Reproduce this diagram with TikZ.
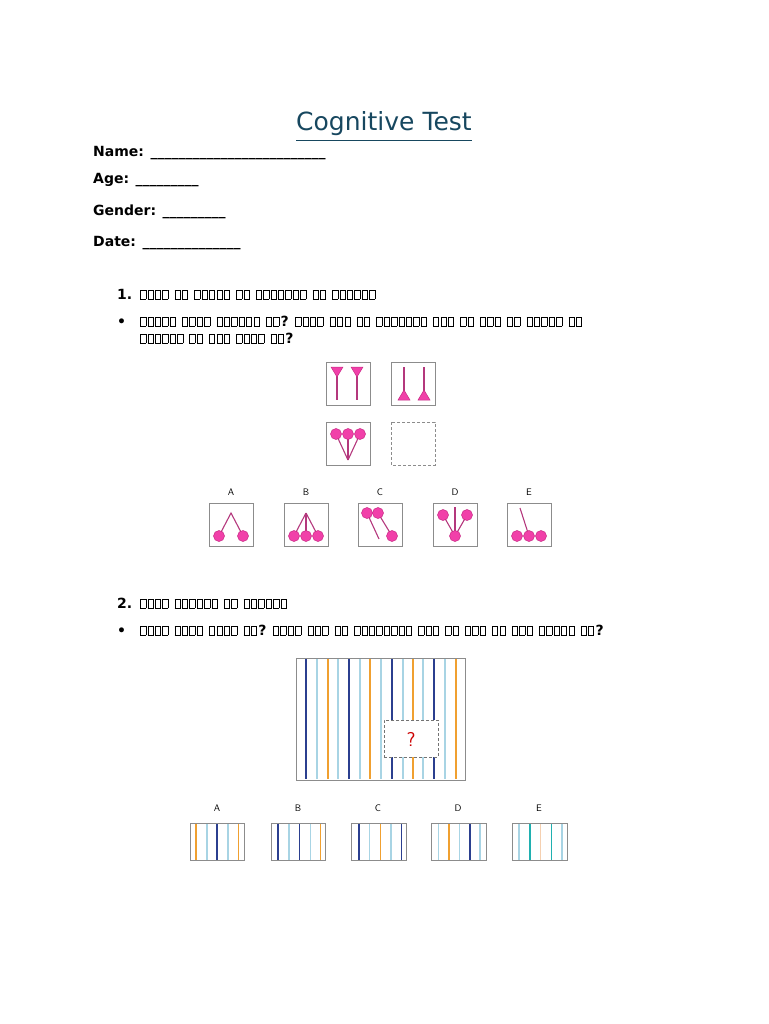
\documentclass[tikz,border=0pt]{standalone}
\usepackage{fontspec}
\usetikzlibrary{calc}
\setmainfont{DejaVu Sans}
\catcode`\▯=\active
\def▯{\makebox[7.4pt][l]{\fboxsep=0pt\fboxrule=0.7pt\framebox[6pt]{\rule{0pt}{8.3pt}}}}
\begin{document}
\begin{tikzpicture}[x=1pt,y=-1pt,
  txt/.style={anchor=base west,inner sep=0pt,font=\fontsize{14}{16}\selectfont\bfseries},
  lbl/.style={font=\fontsize{9.5}{10}\selectfont\sffamily,inner sep=0pt},
  fbox/.style={draw=black!45,line width=0.8pt},
  pk/.style={draw=magenta!70!black,line width=1.1pt},
  pc/.style={draw=magenta!80!black,fill=magenta!75,line width=0.5pt}]
\useasboundingbox (0,0) rectangle (768,1024);
\definecolor{ttl}{HTML}{17475F}
\definecolor{dk}{HTML}{2B3F8F}
\definecolor{lt}{HTML}{A8D4E4}
\definecolor{og}{HTML}{F0A030}
\definecolor{tl}{HTML}{20B0B0}
\definecolor{pe}{HTML}{F5D0B0}
\node[anchor=base,inner sep=0pt,font=\fontsize{25}{28}\selectfont,text=ttl] (title) at (384,131) {Cognitive Test};
\draw[ttl,line width=0.8pt] ($(title.south west)+(0,4)$) -- ($(title.south east)+(0,4)$);
\node[txt] (nm) at (93,157) {Name: \_\_\_\_\_\_\_\_\_\_\_\_\_\_\_\_\_\_\_\_\_\_\_\_\_};
\node[txt] (ag) at (93,184) {Age: \_\_\_\_\_\_\_\_\_};
\node[txt] (gd) at (93,215) {Gender: \_\_\_\_\_\_\_\_\_};
\node[txt] (dt) at (93,246) {Date: \_\_\_\_\_\_\_\_\_\_\_\_\_\_};
\node[txt] (q1n) at (117,299) {1.};
\node[txt] (q1) at (140,299) {▯▯▯▯ ▯▯ ▯▯▯▯▯ ▯▯ ▯▯▯▯▯▯▯ ▯▯ ▯▯▯▯▯▯};
\node[txt] (b1) at (117,326) {•};
\node[txt] (q1a) at (140,326) {▯▯▯▯▯ ▯▯▯▯ ▯▯▯▯▯▯ ▯▯? ▯▯▯▯ ▯▯▯ ▯▯ ▯▯▯▯▯▯▯ ▯▯▯ ▯▯ ▯▯▯ ▯▯ ▯▯▯▯▯ ▯▯};
\node[txt] (q1b) at (140,343) {▯▯▯▯▯▯ ▯▯ ▯▯▯ ▯▯▯▯ ▯▯?};
\node[txt] (q2n) at (117,608) {2.};
\node[txt] (q2) at (140,608) {▯▯▯▯ ▯▯▯▯▯▯ ▯▯ ▯▯▯▯▯▯};
\node[txt] (b2) at (117,635) {•};
\node[txt] (q2a) at (140,635) {▯▯▯▯ ▯▯▯▯ ▯▯▯▯ ▯▯? ▯▯▯▯ ▯▯▯ ▯▯ ▯▯▯▯▯▯▯▯ ▯▯▯ ▯▯ ▯▯▯ ▯▯ ▯▯▯ ▯▯▯▯▯ ▯▯?};
% Q1 figures
\begin{scope}[shift={(326,362)}]
 \draw[fbox] (0,0) rectangle (44,43);
 \foreach \c in {11,31}{\draw[pk] (\c,10) -- (\c,38); \filldraw[pc] (\c-6,5) -- (\c+6,5) -- (\c,15) -- cycle;}
\end{scope}
\begin{scope}[shift={(391,362)}]
 \draw[fbox] (0,0) rectangle (44,43);
 \foreach \c in {13,33}{\draw[pk] (\c,5) -- (\c,32); \filldraw[pc] (\c-6,38) -- (\c+6,38) -- (\c,28) -- cycle;}
\end{scope}
\begin{scope}[shift={(326,422)}]
 \draw[fbox] (0,0) rectangle (44,43);
 \foreach \c in {10,22,34}{\draw[pk] (\c,12) -- (22,38);}
 \foreach \c in {10,22,34}{\filldraw[pc] (\c,12) circle (5.5);}
\end{scope}
\draw[black!45,densely dashed,line width=0.8pt] (391,422) rectangle (435,465);
\foreach \x/\l in {209/A,284/B,358/C,433/D,507/E}{\node[lbl] (l1\l) at (\x+22,492) {\l};}
\begin{scope}[shift={(209,503)}]
 \draw[fbox] (0,0) rectangle (44,43);
 \draw[pk] (10,33) -- (22,10) -- (34,33);
 \foreach \c in {10,34}{\filldraw[pc] (\c,33) circle (5.5);}
\end{scope}
\begin{scope}[shift={(284,503)}]
 \draw[fbox] (0,0) rectangle (44,43);
 \foreach \c in {10,22,34}{\draw[pk] (22,10) -- (\c,33);}
 \foreach \c in {10,22,34}{\filldraw[pc] (\c,33) circle (5.5);}
\end{scope}
\begin{scope}[shift={(358,503)}]
 \draw[fbox] (0,0) rectangle (44,43);
 \draw[pk] (9,10) -- (21,36); \draw[pk] (20,10) -- (34,33);
 \filldraw[pc] (9,10) circle (5.5); \filldraw[pc] (20,10) circle (5.5); \filldraw[pc] (34,33) circle (5.5);
\end{scope}
\begin{scope}[shift={(433,503)}]
 \draw[fbox] (0,0) rectangle (44,43);
 \draw[pk] (10,12) -- (22,33) -- (34,12); \draw[pk] (22,4) -- (22,33);
 \foreach \p in {(10,12),(34,12),(22,33)}{\filldraw[pc] \p circle (5.5);}
\end{scope}
\begin{scope}[shift={(507,503)}]
 \draw[fbox] (0,0) rectangle (44,43);
 \draw[pk] (13,5) -- (22,33);
 \foreach \c in {10,22,34}{\filldraw[pc] (\c,33) circle (5.5);}
\end{scope}
% Q2 figures
\draw[fbox] (296,658) rectangle (465,780);
\foreach \xx/\cc in {306/dk,317/lt,328/og,338/lt,349/dk,360/lt,370/og,381/lt,392/dk,403/lt,413/og,423/lt,434/dk,445/lt,456/og}{
  \draw[\cc,line width=1.6pt] (\xx,659) -- (\xx,779);}
\node[draw=black!55,densely dashed,fill=white,minimum width=54pt,minimum height=37pt,inner sep=0pt,line width=0.7pt] (qbox) at (411,738.5) {};
\node[text=red!80!black,font=\fontsize{20}{22}\selectfont\sffamily] (qm) at (411,739) {?};
\foreach \x/\l in {190/A,271/B,351/C,431/D,512/E}{\node[lbl] (l2\l) at (\x+27,808) {\l};}
\newcommand\opt[3]{\begin{scope}[shift={(#1,823)}]
  \foreach \o/\cc in {#2}{\draw[\cc,line width=1.6pt] (\o,0.5) -- (\o,36.5);}
  \draw[fbox] (0,0) rectangle (#3,37);\end{scope}}
\opt{190}{5.7/og,16.7/lt,26.7/dk,37.7/lt,48.3/og}{54}
\opt{271}{7/dk,17.7/lt,28.3/dk,39.3/lt,49.3/og}{54}
\opt{351}{7.7/dk,18.3/lt,29.3/og,40/lt,50.3/dk}{55}
\opt{431}{7.3/lt,17.7/og,28.3/lt,39/dk,49/lt}{55}
\opt{512}{6.7/lt,17.7/tl,28.3/pe,39.3/tl,50/lt}{55}
\end{tikzpicture}
\end{document}
